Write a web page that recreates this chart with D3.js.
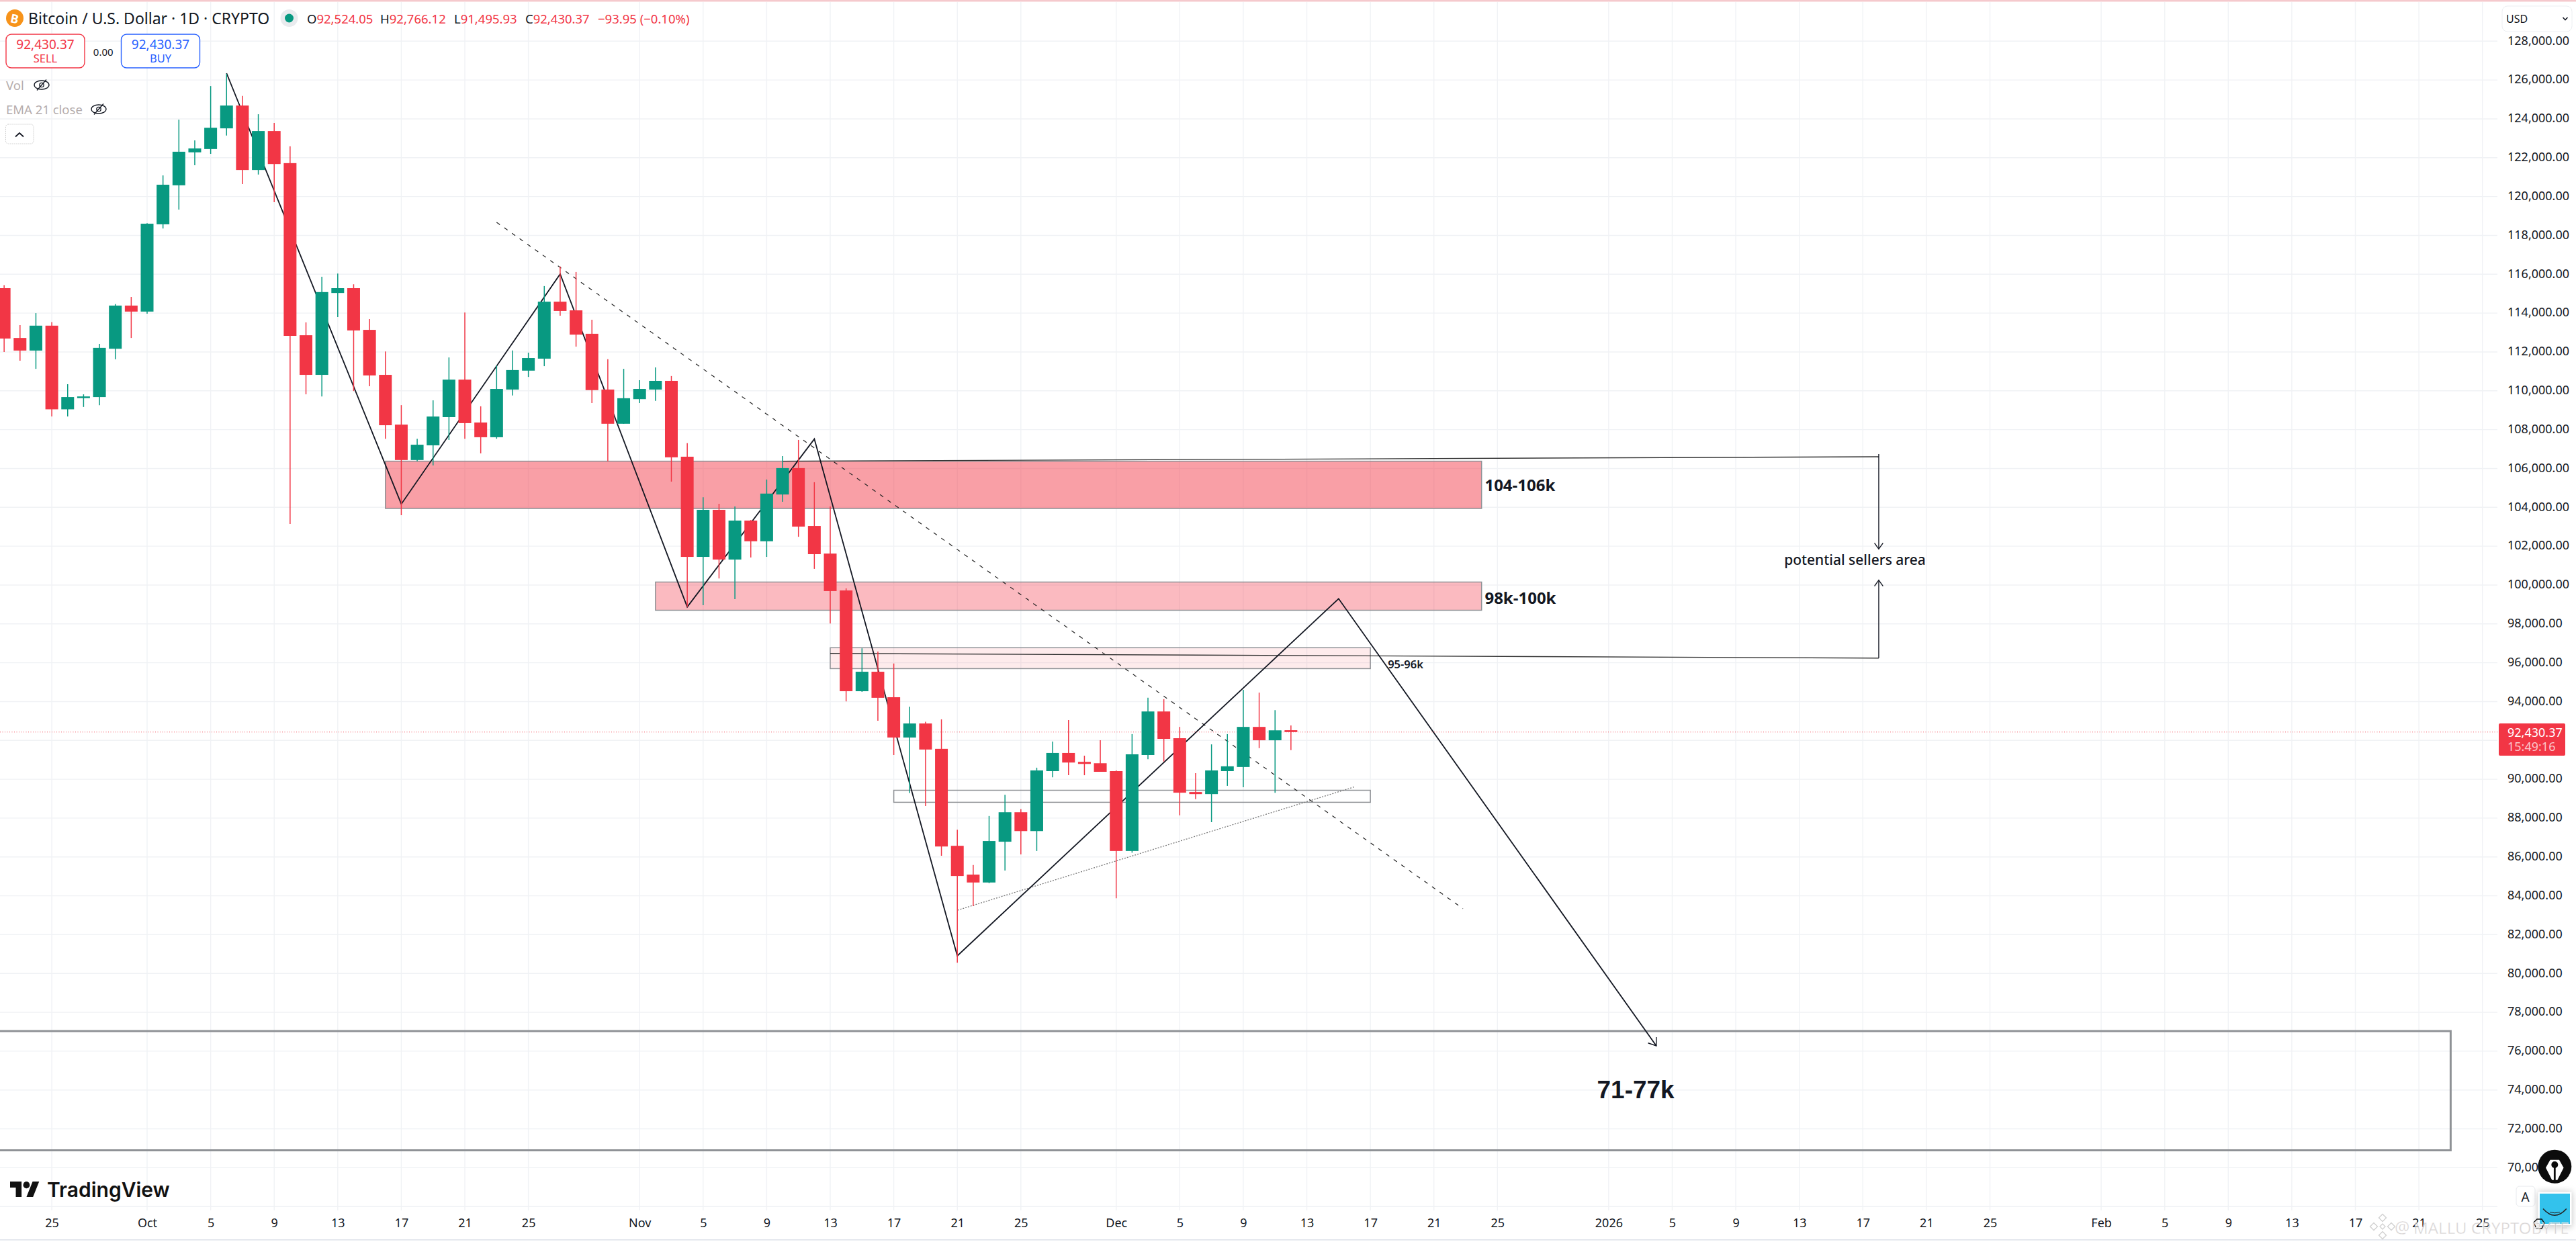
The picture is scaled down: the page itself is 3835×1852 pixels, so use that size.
<!DOCTYPE html>
<html><head><meta charset="utf-8">
<script src="https://cdn.jsdelivr.net/npm/d3@7"></script>
<style>html,body{margin:0;padding:0;background:#fff;overflow:hidden}svg{display:block}text{font-family:"Noto Sans",sans-serif}</style>
</head><body><div id="chart"></div>
<script>
// ---- data (day 0 = 22 Sep 2025) ----
const opens=[115283,112720,112071,113353,109045,109678,109678,112164,114387,114078,118571,120579,122277,122447,123512,124686,121366,123373,121721,112859,110821,115036,115283,113137,110821,108258,106436,107192,108644,110574,108366,107609,110064,111037,111655,114588,114141,112936,110064,108304,109570,110064,110512,106606,101449,103873,101310,103317,102252,104660,106019,103039,101619,99720,94532,95535,94223,92148,92871,91565,86572,85090,84684,86784,88301,87331,90418,91354,90895,90824,90418,86307,91248,93489,92112,89342,89236,90418,90630,92695,92007,92524];
const highs=[115437,113384,114001,113538,110342,109817,112411,114464,114835,118633,121088,123960,122895,125689,126322,125180,124238,123790,122586,113523,115869,116039,115483,113692,112025,109261,107532,109508,111716,114032,109200,111300,112072,111964,115391,116395,116117,113662,111624,111130,110543,111207,110759,107301,104521,104182,104043,103348,105432,106637,107470,105293,104043,99828,96740,96570,95959,93736,92959,93083,87401,85584,88107,89201,88460,90595,91936,93048,91213,92007,90454,92324,94195,94124,92695,90313,91795,92324,94600,94459,93559,92766];
const lows=[111994,111546,111129,108674,108674,109168,109261,111623,112720,113970,118355,119328,121613,122200,123142,120640,121134,119714,103147,109817,109709,113800,109987,110234,107532,103595,106374,106158,107470,107532,106776,107532,109756,110713,111269,113863,112272,109370,106374,108304,109370,109478,105324,98870,98963,100337,99272,101418,101449,104290,102483,100831,98021,94007,94501,93012,91248,89289,88619,86060,80555,83466,84649,85301,86131,86307,90101,90207,90207,90383,83872,86219,91036,90913,88142,88972,87789,89660,89589,91601,89307,91496];
const closes=[112689,112071,113353,109045,109678,109709,112210,114387,114078,118602,120610,122308,122478,123543,124686,121366,123373,121675,112828,110821,115082,115283,113106,110790,108227,106436,107223,108674,110574,108335,107609,110095,111068,111686,114588,114110,112890,110034,108304,109617,110095,110512,106575,101449,103873,101310,103317,102252,104707,106019,103008,101588,99689,94532,95535,94192,92148,92871,91530,86537,85019,84684,86819,88301,87331,90454,91354,90860,90789,90383,86307,91283,93489,92077,89307,89236,90454,90666,92695,92007,92518,92430];
const priceTicks=d3.range(128000,66000,-2000);
const priceLabels=priceTicks.filter(p=>p>=70000&&p!==92000);
const dateTicks=[3,9,13,17,21,25,29,33,40,44,48,52,56,60,64,70,74,78,82,86,90,94,101,105,109,113,117,121,125,132,136,140,144,148,152,156];
const dateLabels=["25","Oct","5","9","13","17","21","25","Nov","5","9","13","17","21","25","Dec","5","9","13","17","21","25","2026","5","9","13","17","21","25","Feb","5","9","13","17","21","25"];
const lastPrice=92430.37;
const zigzag=[[14,126350],[25,104168],[35,116010],[43,98870],[51,107516],[60,80907],[84,99295],[104,76273]];
const trendDashed=[[31,118673],[91.83,83338]];
const trendDotted=[[60.02,83259],[85,89608]];
const bracketTop=[[49,106375],[118,106603]];
const bracketBottom=[[52,96477],[118,96238]];
const arrowDown=[[118,106741],[118,101855]];
const arrowUp=[[118,96238],[118,100250]];
const zoneNames=["104-106k","98k-100k","95-96k","range","71-77k"];
const zoneStart=[24,41,52,56,-2];
const zoneEnd=[93,93,86,86,154];
const zoneTop=[106375,100153,96771,89432,77034];
const zoneBottom=[103940,98700,95695,88813,70895];
const zoneOpacity=[0.48,0.34,0.1,0,0];
const zoneStroke=[1.5,1.5,1.5,1.5,3];
const noteText=["104-106k","98k-100k","95-96k","potential sellers area","71-77k"];
const noteDay=[93.2,93.2,87.1,116.5,102.7];
const notePrice=[105161,99351,95917,101312,74025];
const noteSize=[24,24,16.5,21,37];
const noteAnchor=["start","start","start","middle","middle"];
const noteWeight=[700,700,600,500,700];
const noteFont=["Noto Sans","Noto Sans","Noto Sans","Noto Sans","Liberation Sans"];

// ---- layout ----
const W=3835,H=1852,plotR=3718,plotB=1802;
const GREEN="#089981",RED="#F23645",INK="#131722",GRID="#f0f2f5";
const x=d3.scaleLinear().domain([3,156]).range([77.1,3695.7]);
const y=d3.scaleLinear().domain([128000,70000]).range([61.3,1738.4]);
const svg=d3.select("#chart").append("svg").attr("width",W).attr("height",H).attr("viewBox",[0,0,W,H]);
const defs=svg.append("defs");
defs.append("clipPath").attr("id","plot").append("rect").attr("x",0).attr("y",0).attr("width",plotR).attr("height",plotB);
const blur=defs.append("filter").attr("id","soft").attr("x","-30%").attr("y","-30%").attr("width","160%").attr("height","160%");
blur.append("feGaussianBlur").attr("stdDeviation",5);

svg.append("rect").attr("width",W).attr("height",H).attr("fill","#fff");
svg.append("rect").attr("x",0).attr("y",0).attr("width",W).attr("height",2.5).attr("fill","#f5c9cd");

// grid
const grid=svg.append("g").attr("stroke",GRID).attr("stroke-width",1.4);
grid.selectAll("line.h").data(priceTicks).join("line").attr("class","h").attr("x1",0).attr("x2",plotR).attr("y1",d=>y(d)).attr("y2",d=>y(d));
grid.selectAll("line.v").data(dateTicks).join("line").attr("class","v").attr("x1",d=>x(d)).attr("x2",d=>x(d)).attr("y1",3).attr("y2",plotB);
svg.append("rect").attr("x",0).attr("y",1845).attr("width",W).attr("height",1.6).attr("fill","#e0e3eb");

// drawings (beneath candles)
const draw=svg.append("g").attr("clip-path","url(#plot)");
draw.selectAll("rect.zone").data(zoneNames).join("rect").attr("class","zone")
  .attr("x",(d,i)=>x(zoneStart[i])).attr("width",(d,i)=>x(zoneEnd[i])-x(zoneStart[i]))
  .attr("y",(d,i)=>y(zoneTop[i])).attr("height",(d,i)=>y(zoneBottom[i])-y(zoneTop[i]))
  .attr("fill",RED).attr("fill-opacity",(d,i)=>zoneOpacity[i])
  .attr("stroke","#8f9296").attr("stroke-width",(d,i)=>zoneStroke[i]);
const line=d3.line().x(d=>x(d[0])).y(d=>y(d[1]));
const pl=(pts,w,col,dash)=>draw.append("path").attr("d",line(pts)).attr("fill","none").attr("stroke",col).attr("stroke-width",w).attr("stroke-dasharray",dash||null);
pl(trendDotted,1.3,"#777","2 2");
pl(trendDashed,1.2,"#222","6 8");
pl(bracketTop,1.4,"#333");
pl(bracketBottom,1.4,"#333");
pl(arrowDown,1.4,INK);
pl(arrowUp,1.4,INK);
pl(zigzag,1.8,INK);
function head(p0,p1,len,spread){
  const ax=x(p0[0]),ay=y(p0[1]),bx=x(p1[0]),by=y(p1[1]);
  const t=Math.atan2(by-ay,bx-ax);
  const a=[bx-len*Math.cos(t-spread),by-len*Math.sin(t-spread)],b=[bx-len*Math.cos(t+spread),by-len*Math.sin(t+spread)];
  draw.append("path").attr("d",d3.line()([a,[bx,by],b])).attr("fill","none").attr("stroke",INK).attr("stroke-width",1.4);
}
head(arrowDown[0],arrowDown[1],11,0.62);
head(arrowUp[0],arrowUp[1],11,0.62);
head(zigzag[6],zigzag[7],13,0.62);

// last price line
svg.append("line").attr("x1",0).attr("x2",plotR).attr("y1",y(lastPrice)).attr("y2",y(lastPrice)).attr("stroke",RED).attr("stroke-width",1).attr("stroke-dasharray","1 2.5").attr("stroke-opacity",.8);

// candles
const rows=opens.map((o,i)=>({i,o,h:highs[i],l:lows[i],c:closes[i]}));
const col=d=>d.c>=d.o?GREEN:RED;
const candles=svg.append("g");
candles.selectAll("line").data(rows).join("line")
  .attr("x1",d=>x(d.i)).attr("x2",d=>x(d.i)).attr("y1",d=>y(d.h)).attr("y2",d=>y(d.l)).attr("stroke",col).attr("stroke-width",1.5);
candles.selectAll("rect").data(rows).join("rect")
  .attr("x",d=>x(d.i)-9.5).attr("width",19)
  .attr("y",d=>y(Math.max(d.o,d.c))).attr("height",d=>Math.max(2.5,Math.abs(y(d.o)-y(d.c)))).attr("fill",col);

// annotation text
svg.append("g").selectAll("text").data(noteText).join("text")
  .attr("x",(d,i)=>x(noteDay[i])).attr("y",(d,i)=>y(notePrice[i]))
  .attr("dominant-baseline","central").attr("text-anchor",(d,i)=>noteAnchor[i])
  .attr("font-size",(d,i)=>noteSize[i]).attr("font-weight",(d,i)=>noteWeight[i]).style("font-family",(d,i)=>`"${noteFont[i]}"`)
  .attr("fill",INK).text(d=>d);

// axes
const yAxis=d3.axisRight(y).tickValues(priceLabels).tickSize(0).tickPadding(0).tickFormat(d3.format(",.2f"));
const gy=svg.append("g").attr("transform","translate(3733,-1)").call(yAxis);
gy.select(".domain").remove();
gy.selectAll("text").attr("font-size",18).attr("fill",INK).style("font-family",'"Noto Sans"');
const xAxis=d3.axisBottom(x).tickValues(dateTicks).tickSize(0).tickPadding(0).tickFormat(d=>dateLabels[dateTicks.indexOf(d)]);
const gx=svg.append("g").attr("transform","translate(0,1814)").call(xAxis);
gx.select(".domain").remove();
gx.selectAll("text").attr("font-size",18).attr("fill",INK).style("font-family",'"Noto Sans"');

// price tag
svg.append("rect").attr("x",3720).attr("y",1077).attr("width",99).attr("height",48).attr("rx",2).attr("fill",RED);
svg.append("text").attr("x",3733).attr("y",1089.5).attr("dominant-baseline","central").attr("font-size",18).attr("fill","#fff").text(d3.format(",.2f")(lastPrice));
svg.append("text").attr("x",3733).attr("y",1110.5).attr("dominant-baseline","central").attr("font-size",18).attr("fill","#fff").attr("fill-opacity",.72).text("15:49:16");

// USD box
svg.append("rect").attr("x",3725).attr("y",9).attr("width",104).attr("height",38).attr("rx",8).attr("fill","#fff").attr("stroke","#eceef2").attr("stroke-width",1);
svg.append("text").attr("x",3731).attr("y",28).attr("dominant-baseline","central").attr("font-size",16).attr("fill",INK).text("USD");
svg.append("path").attr("d","M3815.5 26 l3.5 3.5 l3.5 -3.5").attr("fill","none").attr("stroke",INK).attr("stroke-width",1.6);

// header
const hdr=svg.append("g");
hdr.append("circle").attr("cx",22).attr("cy",27).attr("r",13).attr("fill","#f7931a");
hdr.append("text").attr("x",22).attr("y",27.5).attr("text-anchor","middle").attr("dominant-baseline","central").attr("font-size",18).attr("font-weight",700).attr("fill","#fff").attr("transform","rotate(12 22 27)").text("B");
hdr.append("text").attr("x",42).attr("y",27).attr("dominant-baseline","central").attr("font-size",23).attr("fill",INK).text("Bitcoin / U.S. Dollar · 1D · CRYPTO");
hdr.append("circle").attr("cx",430.5).attr("cy",27).attr("r",13).attr("fill","#e9ebee");
hdr.append("circle").attr("cx",430.5).attr("cy",27).attr("r",6.5).attr("fill",GREEN);
const ohlcLetters=["O","H","L","C"],ohlcValues=["92,524.05","92,766.12","91,495.93","92,430.37"],ohlcX=[457,566,676,782];
ohlcLetters.forEach((l,i)=>{
  const t=hdr.append("text").attr("x",ohlcX[i]).attr("y",27).attr("dominant-baseline","central").attr("font-size",18.5).attr("fill",INK).text(l);
  t.append("tspan").attr("fill",RED).text(ohlcValues[i]);
});
hdr.append("text").attr("x",890).attr("y",27).attr("dominant-baseline","central").attr("font-size",18.5).attr("fill",RED).text("−93.95 (−0.10%)");

function tradeBox(x0,color,label){
  hdr.append("rect").attr("x",x0).attr("y",51).attr("width",117).attr("height",50).attr("rx",8).attr("fill","#fff").attr("stroke",color).attr("stroke-width",1.4);
  hdr.append("text").attr("x",x0+58.5).attr("y",65.5).attr("text-anchor","middle").attr("dominant-baseline","central").attr("font-size",19).attr("fill",color).text("92,430.37");
  hdr.append("text").attr("x",x0+58.5).attr("y",86).attr("text-anchor","middle").attr("dominant-baseline","central").attr("font-size",16.5).attr("fill",color).text(label);
}
tradeBox(9,RED,"SELL");tradeBox(180.5,"#2962ff","BUY");
hdr.append("text").attr("x",153.7).attr("y",77).attr("text-anchor","middle").attr("dominant-baseline","central").attr("font-size",15).attr("fill",INK).text("0.00");
function eye(cx,cy){
  const g=hdr.append("g").attr("fill","none").attr("stroke",INK).attr("stroke-width",1.3);
  g.append("ellipse").attr("cx",cx).attr("cy",cy).attr("rx",11).attr("ry",6.5);
  g.append("circle").attr("cx",cx).attr("cy",cy).attr("r",3.2);
  g.append("line").attr("x1",cx-7).attr("y1",cy+8).attr("x2",cx+7).attr("y2",cy-8);
}
hdr.append("text").attr("x",9).attr("y",126.5).attr("dominant-baseline","central").attr("font-size",18.5).attr("fill","#b5adad").text("Vol");
eye(62,126.5);
hdr.append("text").attr("x",9).attr("y",162.5).attr("dominant-baseline","central").attr("font-size",18.5).attr("fill","#b5adad").text("EMA 21 close");
eye(147,162.5);
hdr.append("rect").attr("x",8.5).attr("y",185).attr("width",41.5).attr("height",29).attr("rx",4).attr("fill","#fff").attr("stroke","#c8c8c8").attr("stroke-dasharray","1.5 1.5");
hdr.append("path").attr("d","M23 203.5 l6 -5.5 l6 5.5").attr("fill","none").attr("stroke",INK).attr("stroke-width",1.8);

// TradingView mark
const tv=svg.append("g");
tv.append("g").attr("transform","translate(15,1754) scale(1.22,1.27)").attr("fill","#111").call(g=>{
  g.append("path").attr("d","M14 22H7V11H0V4h14v18zM28 22h-8l7.5-18h8L28 22z");
  g.append("circle").attr("cx",20).attr("cy",8).attr("r",4);
});
tv.append("text").attr("x",70).attr("y",1782).attr("font-size",30).attr("font-weight",600).style("font-family",'"Inter"').attr("fill","#111").text("TradingView");

// corner widgets
const cw=svg.append("g");
cw.append("rect").attr("x",3746).attr("y",1766).attr("width",28).attr("height",30).attr("rx",5).attr("fill","#fff").attr("stroke","#e8eaee");
cw.append("text").attr("x",3759.5).attr("y",1781.5).attr("text-anchor","middle").attr("dominant-baseline","central").attr("font-size",19).attr("fill",INK).text("A");
cw.append("circle").attr("cx",3803.3).attr("cy",1736.7).attr("r",25).attr("fill","#0c0c0c");
cw.append("path").attr("d",d3.line()([[3796.6,1726.7],[3810,1726.7],[3816.6,1738.4],[3807.3,1756.7],[3799.3,1756.7],[3790,1738.4]])).attr("fill","#fff");
cw.append("circle").attr("cx",3803.3).attr("cy",1734).attr("r",5).attr("fill","#0c0c0c");
cw.append("rect").attr("x",3801.9).attr("y",1736).attr("width",2.8).attr("height",21).attr("fill","#0c0c0c");
cw.append("rect").attr("x",3778).attr("y",1774).attr("width",51).attr("height",53).attr("fill","#999").attr("opacity",.55).attr("filter","url(#soft)");
cw.append("rect").attr("x",3778.5).attr("y",1774.5).attr("width",50).attr("height",49.5).attr("fill","#fff");
cw.append("rect").attr("x",3781).attr("y",1777).attr("width",45).attr("height",45).attr("fill","#33c2ec");
cw.append("path").attr("d","M3786 1799.5 Q3803.4 1819 3820.8 1799.5").attr("fill","none").attr("stroke","#222").attr("stroke-width",1.5);
cw.append("path").attr("d","M3796 1804.5 Q3803.4 1807 3811 1804.5").attr("fill","none").attr("stroke","#222").attr("stroke-width",1);
cw.append("path").attr("d","M3772 1820 l5 -5 h7 l4 6 l-4 8 h-8 z").attr("fill","none").attr("stroke","#111").attr("stroke-width",1.4);

// watermark
const wm=svg.append("g");
wm.append("g").attr("fill","#fff").attr("stroke","#d2d2d2").attr("stroke-width",1.4).selectAll("path")
  .data([[3547,1813,5.5],[3534,1826,5.5],[3560,1826,5.5],[3547,1839,5.5],[3547,1826,4]]).join("path")
  .attr("d",d=>`M${d[0]} ${d[1]-d[2]} l${d[2]} ${d[2]} l${-d[2]} ${d[2]} l${-d[2]} ${-d[2]} z`);
wm.append("text").attr("x",3565).attr("y",1826).attr("dominant-baseline","central").attr("font-size",25).attr("fill","#c9c4c4").attr("fill-opacity",.75).attr("stroke","#fff").attr("stroke-width",.4).text("@");
wm.append("text").attr("x",3593).attr("y",1827).attr("dominant-baseline","central").attr("font-size",24).attr("fill","#c9c4c4").attr("fill-opacity",.7).attr("stroke","#fff").attr("stroke-width",.4).text("MALLU CRYPTOBYTE");
</script></body></html>
